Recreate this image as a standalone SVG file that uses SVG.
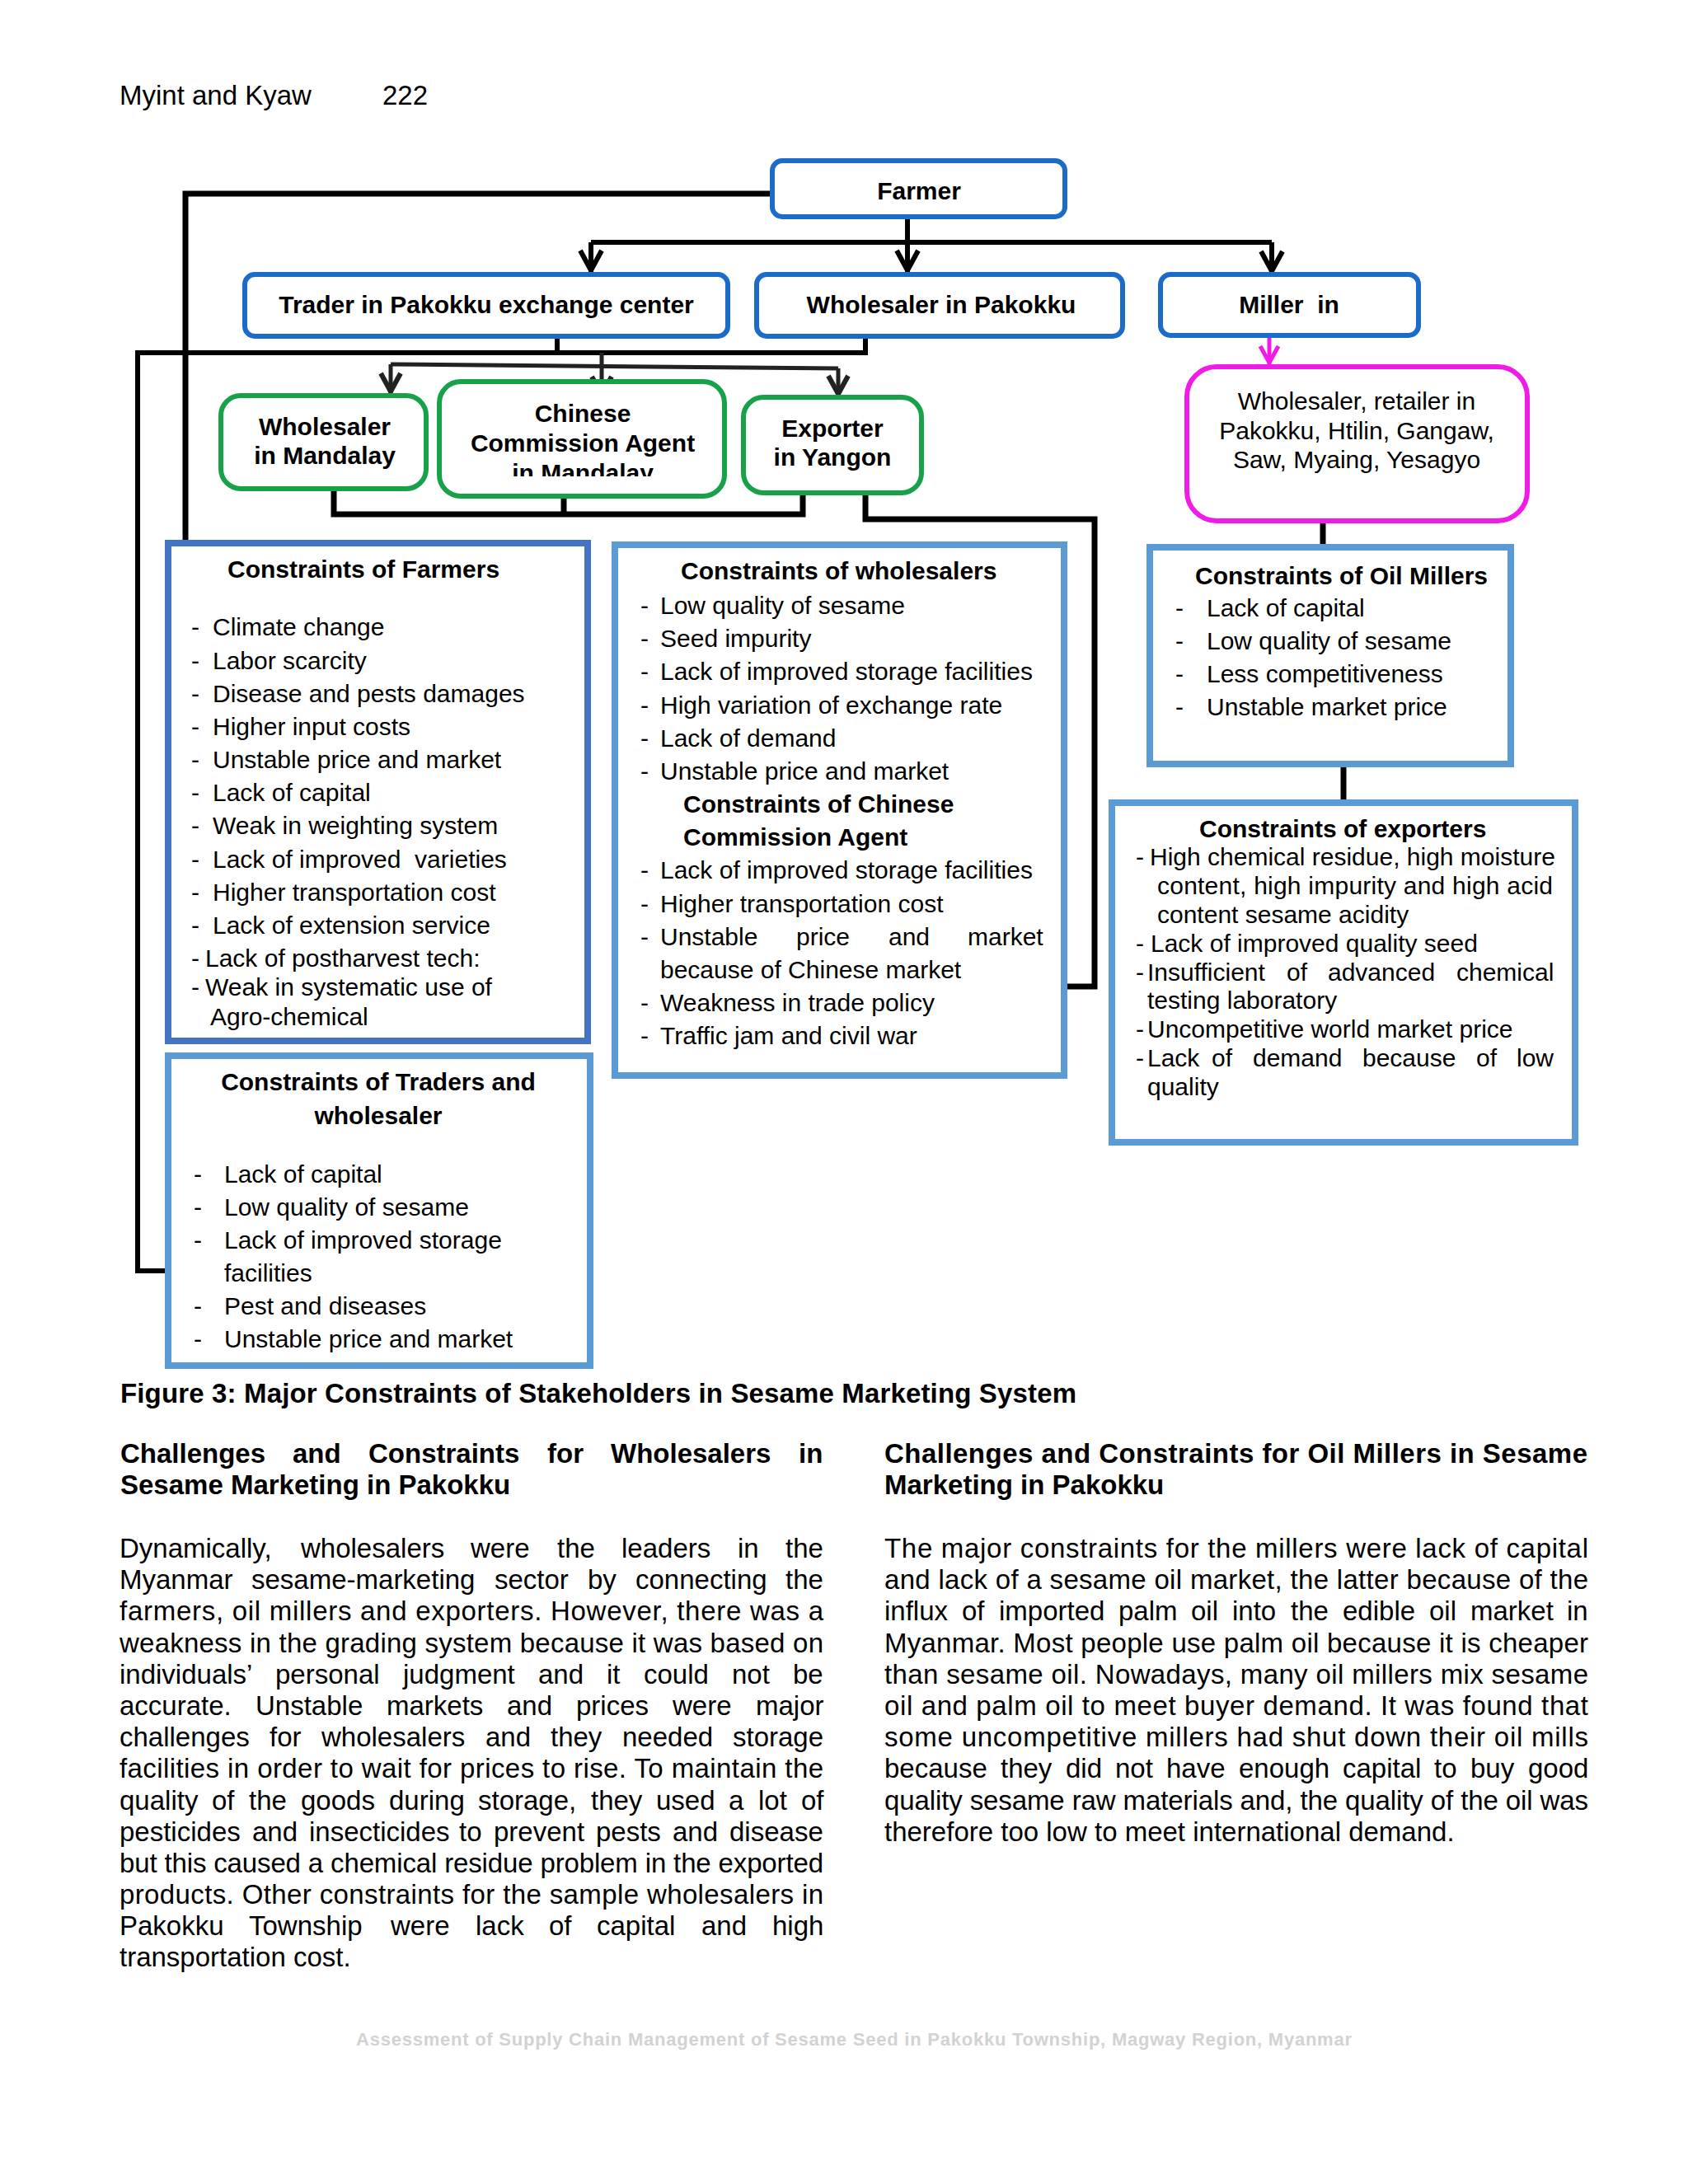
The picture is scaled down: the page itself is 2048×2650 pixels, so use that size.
<svg xmlns="http://www.w3.org/2000/svg" width="2048" height="2650" viewBox="0 0 2048 2650">
<defs>
<style>
text { font-family: "Liberation Sans", Arial, Helvetica, sans-serif; fill: #000; }
.b { font-weight: bold; }
.s30 { font-size: 30px; }
.s33 { font-size: 33px; }
.mid { text-anchor: middle; }
.pre { white-space: pre; }
.nodeBlue { fill: #fff; stroke: #1a6cc8; stroke-width: 6; }
.nodeGreen { fill: #fff; stroke: #17a24a; stroke-width: 6; }
.nodePink { fill: #fff; stroke: #f01be6; stroke-width: 6; }
.boxDark { fill: #fff; stroke: #4472c4; stroke-width: 8; }
.boxLight { fill: #fff; stroke: #5b9bd5; stroke-width: 8; }
.ln { fill: none; stroke: #000; stroke-width: 7; }
.ln6 { fill: none; stroke: #000; stroke-width: 6; }
.lnG { fill: none; stroke: #222; stroke-width: 5; }
.lnP { fill: none; stroke: #f01be6; stroke-width: 5; }
.foot { fill: #d2d2d2; font-size: 22px; font-weight: bold; }
</style>
<marker id="ah" markerUnits="userSpaceOnUse" viewBox="-32 -18 36 36" refX="0" refY="0" markerWidth="36" markerHeight="36" orient="auto" overflow="visible">
<path d="M-26,-13 L-2,0 L-26,13" fill="none" stroke="#000" stroke-width="6"/>
</marker>
<marker id="ahG" markerUnits="userSpaceOnUse" viewBox="-32 -18 36 36" refX="0" refY="0" markerWidth="36" markerHeight="36" orient="auto" overflow="visible">
<path d="M-24,-12 L-2,0 L-24,12" fill="none" stroke="#222" stroke-width="6"/>
</marker>
<marker id="ahP" markerUnits="userSpaceOnUse" viewBox="-32 -18 36 36" refX="0" refY="0" markerWidth="36" markerHeight="36" orient="auto" overflow="visible">
<path d="M-22,-11 L-2,0 L-22,11" fill="none" stroke="#f01be6" stroke-width="5"/>
</marker>
<clipPath id="clipChinese"><rect x="533" y="463" width="346" height="115"/></clipPath>
</defs>
<rect x="0" y="0" width="2048" height="2650" fill="#fff"/>

<g id="page-header">
<text class="s33" x="145" y="127">Myint and Kyaw</text>
<text class="s33" x="464" y="127">222</text>
</g>

<g id="connectors">
<path class="ln" d="M937,235 H225 V659"/>
<path class="ln6" d="M1101,263 V330" marker-end="url(#ah)"/>
<path class="ln6" d="M717,294 H1543"/>
<path class="ln6" d="M717,294 V330" marker-end="url(#ah)"/>
<path class="ln6" d="M1543,294 V331" marker-end="url(#ah)"/>
<path class="ln6" d="M676,408 V428"/>
<path class="ln6" d="M1050,408 V428 H167 V1542 H204"/>
<path class="lnG" d="M474,442 L1017,447"/>
<path class="lnG" d="M474,442 V477" marker-end="url(#ahG)"/>
<path class="lnG" d="M730,428 V481" marker-end="url(#ahG)"/>
<path class="lnG" d="M1017,447 V480" marker-end="url(#ahG)"/>
<path class="lnP" d="M1540,407 V442" marker-end="url(#ahP)"/>
<path class="ln" d="M405,593 V624 H974 V598"/>
<path class="ln" d="M684,602 V624"/>
<path class="ln" d="M1050,598 V630 H1328 V1197 H1291"/>
<path class="ln" stroke-width="8" d="M1605,632 V662"/>
<path class="ln" stroke-width="8" d="M1630,927 V974"/>
</g>

<g id="node-farmer">
<rect class="nodeBlue" x="937" y="195" width="355" height="68" rx="12"/>
<text class="b s30 mid" x="1115" y="242">Farmer</text>
</g>
<g id="node-trader">
<rect class="nodeBlue" x="297" y="333" width="586" height="75" rx="12"/>
<text class="b s30 mid" x="590" y="380">Trader in Pakokku exchange center</text>
</g>
<g id="node-wholesaler-pakokku">
<rect class="nodeBlue" x="918" y="333" width="444" height="75" rx="12"/>
<text class="b s30 mid" x="1142" y="380">Wholesaler in Pakokku</text>
</g>
<g id="node-miller">
<rect class="nodeBlue" x="1408" y="333" width="313" height="74" rx="12"/>
<text class="b s30 mid pre" x="1564" y="380">Miller  in</text>
</g>

<g id="node-wholesaler-mandalay">
<rect class="nodeGreen" x="268" y="480" width="249" height="113" rx="24"/>
<text class="b s30 mid" x="394" y="528">Wholesaler</text>
<text class="b s30 mid" x="394" y="563">in Mandalay</text>
</g>
<g id="node-chinese-agent">
<rect class="nodeGreen" x="533" y="463" width="346" height="139" rx="26"/>
<text class="b s30 mid" x="707" y="512">Chinese</text>
<text class="b s30 mid" x="707" y="548">Commission Agent</text>
<text class="b s30 mid" x="707" y="584" clip-path="url(#clipChinese)">in Mandalay</text>
</g>
<g id="node-exporter">
<rect class="nodeGreen" x="902" y="482" width="216" height="116" rx="24"/>
<text class="b s30 mid" x="1010" y="530">Exporter</text>
<text class="b s30 mid" x="1010" y="565">in Yangon</text>
</g>
<g id="node-retailers">
<rect class="nodePink" x="1440" y="445" width="413" height="187" rx="36"/>
<text class="s30 mid" x="1646" y="497">Wholesaler, retailer in</text>
<text class="s30 mid" x="1646" y="533">Pakokku, Htilin, Gangaw,</text>
<text class="s30 mid" x="1646" y="568">Saw, Myaing, Yesagyo</text>
</g>

<g id="box-farmers">
<rect class="boxDark" x="204" y="659" width="509" height="604"/>
<text class="b s30" x="276" y="701">Constraints of Farmers</text>
<g class="s30">
<text x="232" y="771">-</text><text x="258" y="771">Climate change</text>
<text x="232" y="812">-</text><text x="258" y="812">Labor scarcity</text>
<text x="232" y="852">-</text><text x="258" y="852">Disease and pests damages</text>
<text x="232" y="892">-</text><text x="258" y="892">Higher input costs</text>
<text x="232" y="932">-</text><text x="258" y="932">Unstable price and market</text>
<text x="232" y="972">-</text><text x="258" y="972">Lack of capital</text>
<text x="232" y="1012">-</text><text x="258" y="1012">Weak in weighting system</text>
<text x="232" y="1053">-</text><text class="pre" x="258" y="1053">Lack of improved  varieties</text>
<text x="232" y="1093">-</text><text x="258" y="1093">Higher transportation cost</text>
<text x="232" y="1133">-</text><text x="258" y="1133">Lack of extension service</text>
<text x="232" y="1173">-</text><text x="249" y="1173">Lack of postharvest tech:</text>
<text x="232" y="1208">-</text><text x="249" y="1208">Weak in systematic use of</text>
<text x="255" y="1244">Agro-chemical</text>
</g>
</g>

<g id="box-traders">
<rect class="boxLight" x="204" y="1281" width="512" height="376"/>
<text class="b s30 mid" x="459" y="1323">Constraints of Traders and</text>
<text class="b s30 mid" x="459" y="1364">wholesaler</text>
<g class="s30">
<text x="235" y="1435">-</text><text x="272" y="1435">Lack of capital</text>
<text x="235" y="1475">-</text><text x="272" y="1475">Low quality of sesame</text>
<text x="235" y="1515">-</text><text x="272" y="1515">Lack of improved storage</text>
<text x="272" y="1555">facilities</text>
<text x="235" y="1595">-</text><text x="272" y="1595">Pest and diseases</text>
<text x="235" y="1635">-</text><text x="272" y="1635">Unstable price and market</text>
</g>
</g>

<g id="box-wholesalers">
<rect class="boxLight" x="746" y="661" width="545" height="644"/>
<text class="b s30" x="826" y="703">Constraints of wholesalers</text>
<g class="s30">
<text x="777" y="745">-</text><text x="801" y="745">Low quality of sesame</text>
<text x="777" y="785">-</text><text x="801" y="785">Seed impurity</text>
<text x="777" y="825">-</text><text x="801" y="825">Lack of improved storage facilities</text>
<text x="777" y="866">-</text><text x="801" y="866">High variation of exchange rate</text>
<text x="777" y="906">-</text><text x="801" y="906">Lack of demand</text>
<text x="777" y="946">-</text><text x="801" y="946">Unstable price and market</text>
<text class="b" x="829" y="986">Constraints of Chinese</text>
<text class="b" x="829" y="1026">Commission Agent</text>
<text x="777" y="1066">-</text><text x="801" y="1066">Lack of improved storage facilities</text>
<text x="777" y="1107">-</text><text x="801" y="1107">Higher transportation cost</text>
<text x="777" y="1147">-</text><text y="1147"><tspan x="801">Unstable</tspan><tspan x="966">price</tspan><tspan x="1078">and</tspan><tspan x="1174">market</tspan></text>
<text x="801" y="1187">because of Chinese market</text>
<text x="777" y="1227">-</text><text x="801" y="1227">Weakness in trade policy</text>
<text x="777" y="1267">-</text><text x="801" y="1267">Traffic jam and civil war</text>
</g>
</g>

<g id="box-oil-millers">
<rect class="boxLight" x="1395" y="664" width="438" height="263"/>
<text class="b s30" x="1450" y="709">Constraints of Oil Millers</text>
<g class="s30">
<text x="1426" y="748">-</text><text x="1464" y="748">Lack of capital</text>
<text x="1426" y="788">-</text><text x="1464" y="788">Low quality of sesame</text>
<text x="1426" y="828">-</text><text x="1464" y="828">Less competitiveness</text>
<text x="1426" y="868">-</text><text x="1464" y="868">Unstable market price</text>
</g>
</g>

<g id="box-exporters">
<rect class="boxLight" x="1349" y="974" width="562" height="412"/>
<text class="b s30" x="1455" y="1016">Constraints of exporters</text>
<g class="s30">
<text x="1378" y="1050">-</text><text x="1395" y="1050">High chemical residue, high moisture</text>
<text x="1404" y="1085" textLength="480" lengthAdjust="spacing">content, high impurity and high acid</text>
<text x="1404" y="1120">content sesame acidity</text>
<text x="1378" y="1155">-</text><text x="1396" y="1155">Lack of improved quality seed</text>
<text x="1378" y="1190">-</text><text y="1190"><tspan x="1392">Insufficient</tspan><tspan x="1561">of</tspan><tspan x="1611">advanced</tspan><tspan x="1767">chemical</tspan></text>
<text x="1392" y="1224">testing laboratory</text>
<text x="1378" y="1259">-</text><text x="1392" y="1259">Uncompetitive world market price</text>
<text x="1378" y="1294">-</text><text y="1294"><tspan x="1392">Lack</tspan><tspan x="1470">of</tspan><tspan x="1520">demand</tspan><tspan x="1653">because</tspan><tspan x="1791">of</tspan><tspan x="1840">low</tspan></text>
<text x="1392" y="1329">quality</text>
</g>
</g>

<g id="caption">
<text class="b s33" x="146" y="1702" textLength="1160" lengthAdjust="spacing">Figure 3: Major Constraints of Stakeholders in Sesame Marketing System</text>
</g>

<g id="left-column">
<text class="b s33" y="1775"><tspan x="146">Challenges</tspan><tspan x="355">and</tspan><tspan x="447">Constraints</tspan><tspan x="664">for</tspan><tspan x="741">Wholesalers</tspan><tspan x="969">in</tspan></text>
<text class="b s33" x="146" y="1813">Sesame Marketing in Pakokku</text>
<g class="s33">
<text y="1890"><tspan x="145">Dynamically,</tspan><tspan x="365">wholesalers</tspan><tspan x="571">were</tspan><tspan x="676">the</tspan><tspan x="754">leaders</tspan><tspan x="895">in</tspan><tspan x="953">the</tspan></text>
<text y="1928"><tspan x="145">Myanmar</tspan><tspan x="305">sesame-marketing</tspan><tspan x="600">sector</tspan><tspan x="713">by</tspan><tspan x="771">connecting</tspan><tspan x="953">the</tspan></text>
<text x="145" y="1966" textLength="854" lengthAdjust="spacing">farmers, oil millers and exporters. However, there was a</text>
<text x="145" y="2005" textLength="854" lengthAdjust="spacing">weakness in the grading system because it was based on</text>
<text y="2043"><tspan x="145">individuals’</tspan><tspan x="334">personal</tspan><tspan x="489">judgment</tspan><tspan x="653">and</tspan><tspan x="736">it</tspan><tspan x="781">could</tspan><tspan x="888">not</tspan><tspan x="962">be</tspan></text>
<text y="2081"><tspan x="145">accurate.</tspan><tspan x="310">Unstable</tspan><tspan x="469">markets</tspan><tspan x="615">and</tspan><tspan x="699">prices</tspan><tspan x="816">were</tspan><tspan x="917">major</tspan></text>
<text y="2119"><tspan x="145">challenges</tspan><tspan x="327">for</tspan><tspan x="390">wholesalers</tspan><tspan x="589">and</tspan><tspan x="668">they</tspan><tspan x="755">needed</tspan><tspan x="889">storage</tspan></text>
<text x="145" y="2157" textLength="854" lengthAdjust="spacing">facilities in order to wait for prices to rise. To maintain the</text>
<text y="2196"><tspan x="145">quality</tspan><tspan x="257">of</tspan><tspan x="302">the</tspan><tspan x="365">goods</tspan><tspan x="472">during</tspan><tspan x="580">storage,</tspan><tspan x="717">they</tspan><tspan x="796">used</tspan><tspan x="884">a</tspan><tspan x="920">lot</tspan><tspan x="972">of</tspan></text>
<text y="2234"><tspan x="145">pesticides</tspan><tspan x="306">and</tspan><tspan x="375">insecticides</tspan><tspan x="557">to</tspan><tspan x="599">prevent</tspan><tspan x="723">pests</tspan><tspan x="816">and</tspan><tspan x="885">disease</tspan></text>
<text x="145" y="2272" textLength="854" lengthAdjust="spacing">but this caused a chemical residue problem in the exported</text>
<text x="145" y="2310" textLength="854" lengthAdjust="spacing">products. Other constraints for the sample wholesalers in</text>
<text y="2348"><tspan x="145">Pakokku</tspan><tspan x="302">Township</tspan><tspan x="474">were</tspan><tspan x="577">lack</tspan><tspan x="666">of</tspan><tspan x="724">capital</tspan><tspan x="851">and</tspan><tspan x="937">high</tspan></text>
<text x="145" y="2386">transportation cost.</text>
</g>
</g>

<g id="right-column">
<text class="b s33" x="1073" y="1775" textLength="853" lengthAdjust="spacing">Challenges and Constraints for Oil Millers in Sesame</text>
<text class="b s33" x="1073" y="1813">Marketing in Pakokku</text>
<g class="s33">
<text x="1073" y="1890" textLength="854" lengthAdjust="spacing">The major constraints for the millers were lack of capital</text>
<text x="1073" y="1928" textLength="854" lengthAdjust="spacing">and lack of a sesame oil market, the latter because of the</text>
<text y="1966"><tspan x="1073">influx</tspan><tspan x="1167">of</tspan><tspan x="1212">imported</tspan><tspan x="1357">palm</tspan><tspan x="1445">oil</tspan><tspan x="1495">into</tspan><tspan x="1566">the</tspan><tspan x="1629">edible</tspan><tspan x="1734">oil</tspan><tspan x="1784">market</tspan><tspan x="1901">in</tspan></text>
<text x="1073" y="2005" textLength="854" lengthAdjust="spacing">Myanmar. Most people use palm oil because it is cheaper</text>
<text x="1073" y="2043" textLength="854" lengthAdjust="spacing">than sesame oil. Nowadays, many oil millers mix sesame</text>
<text x="1073" y="2081" textLength="854" lengthAdjust="spacing">oil and palm oil to meet buyer demand. It was found that</text>
<text x="1073" y="2119" textLength="854" lengthAdjust="spacing">some uncompetitive millers had shut down their oil mills</text>
<text y="2157"><tspan x="1073">because</tspan><tspan x="1214">they</tspan><tspan x="1293">did</tspan><tspan x="1353">not</tspan><tspan x="1415">have</tspan><tspan x="1503">enough</tspan><tspan x="1629">capital</tspan><tspan x="1740">to</tspan><tspan x="1784">buy</tspan><tspan x="1854">good</tspan></text>
<text x="1073" y="2196" textLength="854" lengthAdjust="spacing">quality sesame raw materials and, the quality of the oil was</text>
<text x="1073" y="2234">therefore too low to meet international demand.</text>
</g>
</g>

<g id="footer">
<text class="foot" x="432" y="2482" textLength="1208" lengthAdjust="spacing">Assessment of Supply Chain Management of Sesame Seed in Pakokku Township, Magway Region, Myanmar</text>
</g>
</svg>
